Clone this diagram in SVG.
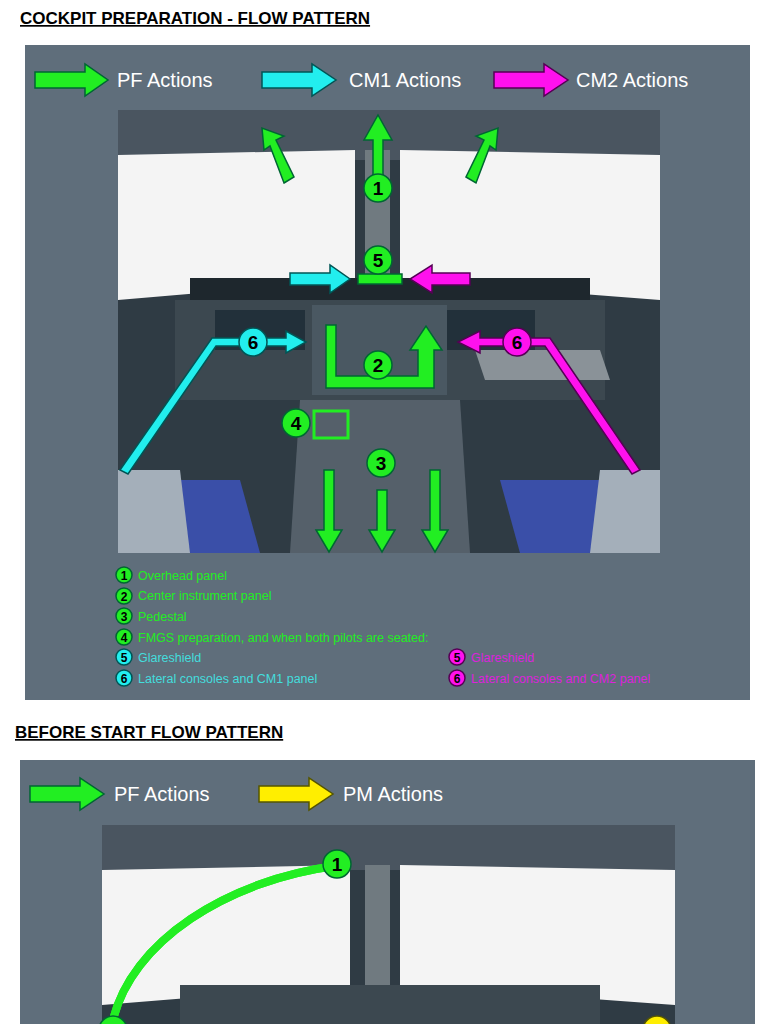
<svg xmlns="http://www.w3.org/2000/svg" width="768" height="1024" viewBox="0 0 768 1024">
<style>
.h{font-family:"Liberation Sans",Arial,sans-serif;font-weight:bold;font-size:17px;fill:#000;text-decoration:underline}
.lg{font-family:"Liberation Sans",Arial,sans-serif;font-size:20px;fill:#fff}
.le{font-family:"Liberation Sans",Arial,sans-serif;font-size:12.5px}
.n{font-family:"Liberation Sans",Arial,sans-serif;font-weight:bold;fill:#000;text-anchor:middle}
.g{fill:#22ee22;stroke:#063;stroke-width:1.5}
.c{fill:#22eeee;stroke:#055;stroke-width:1.5}
.m{fill:#ff11ee;stroke:#505;stroke-width:1.5}
.y{fill:#ffee00;stroke:#550;stroke-width:1.5}
.gl{stroke:#22ee22;fill:none;stroke-width:8}
</style>
<rect width="768" height="1024" fill="#fff"/>
<text class="h" x="20" y="24">COCKPIT PREPARATION - FLOW PATTERN</text>
<rect x="25" y="45" width="725" height="655" fill="#5f6e7b"/>
<g id="legend-top">
<polygon class="g" points="35,72 85,72 85,64 108,80 85,96 85,88 35,88"/>
<text class="lg" x="117" y="87">PF Actions</text>
<polygon class="c" points="262,72 312,72 312,64 336,80 312,96 312,88 262,88"/>
<text class="lg" x="349" y="87">CM1 Actions</text>
<polygon class="m" points="494,72 544,72 544,64 568,80 544,96 544,88 494,88"/>
<text class="lg" x="576" y="87">CM2 Actions</text>
</g>
<g id="photo1">
<rect x="118" y="110" width="542" height="443" fill="#2f3b44"/>
<rect x="118" y="110" width="542" height="50" fill="#4a5560"/>
<polygon points="118,155 355,150 355,280 118,300" fill="#f4f4f4"/>
<polygon points="400,150 660,155 660,300 400,280" fill="#f4f4f4"/>
<rect x="365" y="150" width="25" height="130" fill="#707a80"/>
<rect x="190" y="278" width="400" height="22" fill="#1e272d"/>
<rect x="175" y="300" width="430" height="100" fill="#3c4850"/>
<rect x="215" y="310" width="90" height="40" fill="#22303a"/>
<rect x="445" y="310" width="90" height="40" fill="#22303a"/>
<rect x="312" y="305" width="135" height="90" fill="#4a5862"/>
<polygon points="300,400 460,400 470,553 290,553" fill="#55606a"/>
<polygon points="118,480 240,480 260,553 118,553" fill="#3a4fa8"/>
<polygon points="500,480 660,480 660,553 520,553" fill="#3a4fa8"/>
<polygon points="118,470 180,470 190,553 118,553" fill="#a4afba"/>
<polygon points="600,470 660,470 660,553 590,553" fill="#a4afba"/>
<polygon points="475,350 600,350 610,380 485,380" fill="#8a9298"/>
</g>
<g id="connectors">
<polygon class="g" points="284,183 294,177 276,140 284,136 262,128 264,150 270,146"/>
<polygon class="g" points="373,180 383,180 383,140 392,140 378,115 364,140 373,140"/>
<polygon class="g" points="466,177 476,183 490,146 496,150 498,128 476,136 484,140"/>
<rect class="g" x="358" y="274" width="44" height="10"/>
<polygon class="c" points="290,273 330,273 330,265 350,279 330,293 330,285 290,285"/>
<polygon class="m" points="470,273 432,273 432,265 410,279 432,293 432,285 470,285"/>
<polygon class="c" points="120,470 212,338 286,338 286,331 306,342 286,353 286,346 216,346 128,474"/>
<polygon class="m" points="640,470 550,338 480,338 480,331 458,342 480,353 480,346 545,346 632,474"/>
<polygon class="g" points="326,325 336,325 336,376 418,376 418,350 410,350 426,326 442,350 434,350 434,388 326,388"/>
<rect x="314" y="411" width="34" height="27" fill="none" stroke="#22ee22" stroke-width="3"/>
<polygon class="g" points="324,470 334,470 334,530 342,530 329,552 316,530 324,530"/>
<polygon class="g" points="377,490 387,490 387,530 395,530 382,552 369,530 377,530"/>
<polygon class="g" points="430,470 440,470 440,530 448,530 435,552 422,530 430,530"/>
</g>
<g id="nodes1">
<circle class="g" cx="378" cy="188" r="14"/><text class="n" x="378" y="195" font-size="19">1</text>
<circle class="g" cx="378" cy="260" r="14"/><text class="n" x="378" y="267" font-size="19">5</text>
<circle class="c" cx="253" cy="342" r="14"/><text class="n" x="253" y="349" font-size="19">6</text>
<circle class="g" cx="378" cy="365" r="14"/><text class="n" x="378" y="372" font-size="19">2</text>
<circle class="m" cx="517" cy="342" r="14"/><text class="n" x="517" y="349" font-size="19">6</text>
<circle class="g" cx="296" cy="423" r="14"/><text class="n" x="296" y="430" font-size="19">4</text>
<circle class="g" cx="381" cy="463" r="14"/><text class="n" x="381" y="470" font-size="19">3</text>
</g>
<g id="legend-list">
<g font-size="12"><circle class="g" cx="124" cy="575" r="8"/><text class="n" x="124" y="580" font-size="12">1</text>
<text class="le" x="138" y="580" fill="#22ee22">Overhead panel</text>
<circle class="g" cx="124" cy="596" r="8"/><text class="n" x="124" y="601" font-size="12">2</text>
<text class="le" x="138" y="600" fill="#22ee22">Center instrument panel</text>
<circle class="g" cx="124" cy="616" r="8"/><text class="n" x="124" y="621" font-size="12">3</text>
<text class="le" x="138" y="621" fill="#22ee22">Pedestal</text>
<circle class="g" cx="124" cy="637" r="8"/><text class="n" x="124" y="642" font-size="12">4</text>
<text class="le" x="138" y="642" fill="#22ee22">FMGS preparation, and when both pilots are seated:</text>
<circle class="c" cx="124" cy="657" r="8"/><text class="n" x="124" y="662" font-size="12">5</text>
<text class="le" x="138" y="662" fill="#44dddd">Glareshield</text>
<circle class="c" cx="124" cy="678" r="8"/><text class="n" x="124" y="683" font-size="12">6</text>
<text class="le" x="138" y="683" fill="#44dddd">Lateral consoles and CM1 panel</text>
<circle class="m" cx="457" cy="657" r="8"/><text class="n" x="457" y="662" font-size="12">5</text>
<text class="le" x="471" y="662" fill="#dd22dd">Glareshield</text>
<circle class="m" cx="457" cy="678" r="8"/><text class="n" x="457" y="683" font-size="12">6</text>
<text class="le" x="471" y="683" fill="#dd22dd">Lateral consoles and CM2 panel</text></g>
</g>
<text class="h" x="15" y="738">BEFORE START FLOW PATTERN</text>
<rect x="20" y="760" width="735" height="264" fill="#5f6e7b"/>
<g id="legend-bottom">
<polygon class="g" points="30,786 80,786 80,778 104,794 80,810 80,802 30,802"/>
<text class="lg" x="114" y="801">PF Actions</text>
<polygon class="y" points="259,786 309,786 309,778 333,794 309,810 309,802 259,802"/>
<text class="lg" x="343" y="801">PM Actions</text>
</g>
<g id="photo2">
<rect x="102" y="825" width="573" height="199" fill="#2f3b44"/>
<rect x="102" y="825" width="573" height="45" fill="#4a5560"/>
<polygon points="102,870 350,865 350,985 102,1005" fill="#f4f4f4"/>
<polygon points="400,865 675,870 675,1005 400,985" fill="#f4f4f4"/>
<rect x="365" y="865" width="25" height="120" fill="#707a80"/>
<rect x="180" y="985" width="420" height="39" fill="#3c4850"/>
</g>
<path class="gl" d="M335,866 C230,880 130,940 112,1024" stroke="#063" stroke-width="11"/>
<path class="gl" d="M335,866 C230,880 130,940 112,1024"/>
<g id="nodes2">
<circle class="g" cx="337" cy="864" r="14"/><text class="n" x="337" y="871" font-size="19">1</text>
<circle class="g" cx="113" cy="1030" r="14"/>
<circle class="y" cx="657" cy="1030" r="14"/>
</g>
</svg>
